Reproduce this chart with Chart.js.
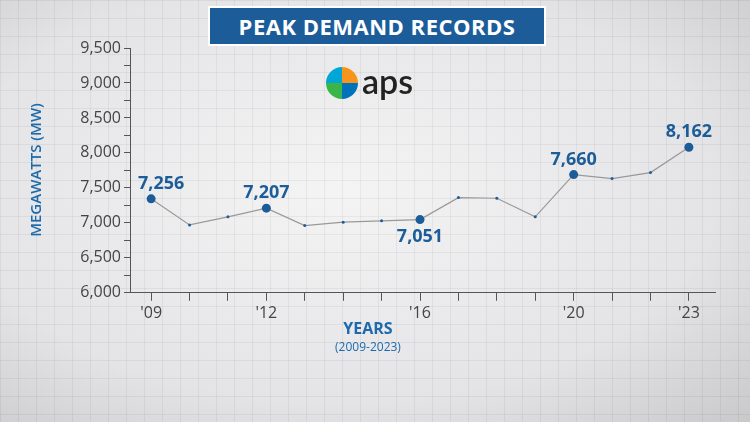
<!DOCTYPE html>
<html>
<head>
<meta charset="utf-8">
<script src="https://cdn.jsdelivr.net/npm/chart.js@4/dist/chart.umd.min.js"></script>
<style>
  body { margin: 0; width: 750px; height: 422px; overflow: hidden;
    font-family: "Open Sans", sans-serif;
    background:
      linear-gradient(rgba(0,0,0,0.05) 1px, transparent 1px) 0 0 / 18px 18px,
      linear-gradient(90deg, rgba(0,0,0,0.05) 1px, transparent 1px) 0 0 / 18px 18px,
      radial-gradient(ellipse at 45% 45%, #f4f4f5 0%, #e4e4e6 65%, #c9c9cc 100%);
  }
  #wrap { position: absolute; left: 0; top: 0; width: 750px; height: 422px; }
  .title { position: absolute; left: 208px; top: 6px; width: 334px; height: 36px;
    background: #1c5d99; border: 2px solid #fff; color: #fff; font-weight: 700;
    font-size: 22px; text-align: center; line-height: 36px; letter-spacing: 0.5px; }
  .logo { position: absolute; left: 326px; top: 60px; font: 600 34px "Lato", sans-serif; color: #222; }
  .logo span.ring { display: inline-block; width: 32px; height: 32px; border-radius: 50%;
    background: conic-gradient(#f7941d 0 25%, #0072bc 25% 50%, #39b54a 50% 75%, #00a6d6 75% 100%);
    vertical-align: -5px; margin-right: 4px; }
  .ytitle { position: absolute; left: -45px; top: 160px; width: 160px; transform: rotate(-90deg);
    color: #1c6aab; font-weight: 600; font-size: 15px; text-align: center; }
  .xtitle { position: absolute; left: 318px; top: 317px; width: 100px; text-align: center;
    color: #1c6aab; font-weight: 700; font-size: 16px; }
  .xsub { position: absolute; left: 308px; top: 338px; width: 120px; text-align: center;
    color: #1c6aab; font-size: 12px; }
</style>
</head>
<body>
<div id="wrap"><canvas id="chart" width="750" height="422"></canvas></div>
<div class="title">PEAK DEMAND RECORDS</div>
<div class="logo"><span class="ring"></span>aps</div>
<div class="ytitle">MEGAWATTS (MW)</div>
<div class="xtitle">YEARS</div>
<div class="xsub">(2009-2023)</div>
<script>
const years = [2009, 2010, 2011, 2012, 2013, 2014, 2015, 2016, 2017, 2018, 2019, 2020, 2021, 2022, 2023];
const demandMW = [7343, 6971, 7086, 7210, 6961, 7010, 7029, 7047, 7361, 7352, 7086, 7690, 7633, 7719, 8081];
const recordLabels = { 2009: "7,256", 2012: "7,207", 2016: "7,051", 2020: "7,660", 2023: "8,162" };
const yearTickLabels = { 2009: "'09", 2012: "'12", 2016: "'16", 2020: "'20", 2023: "'23" };

const blue = "#1c5d99";

const recordLabelPlugin = {
  id: "recordLabels",
  afterDatasetsDraw(chart) {
    const ctx = chart.ctx;
    const meta = chart.getDatasetMeta(0);
    ctx.save();
    ctx.font = "700 18px 'Open Sans', sans-serif";
    ctx.fillStyle = blue;
    ctx.textAlign = "center";
    meta.data.forEach((pt, i) => {
      const txt = recordLabels[years[i]];
      if (!txt) return;
      const below = years[i] === 2016;
      ctx.textBaseline = below ? "top" : "bottom";
      ctx.fillText(txt, pt.x + (i === 0 ? 10 : 0), below ? pt.y + 8 : pt.y - 6);
    });
    ctx.restore();
  }
};

new Chart(document.getElementById("chart"), {
  type: "line",
  plugins: [recordLabelPlugin],
  data: {
    datasets: [{
      data: years.map((y, i) => ({ x: y, y: demandMW[i] })),
      borderColor: "#999",
      borderWidth: 1.2,
      pointBackgroundColor: blue,
      pointBorderWidth: 0,
      pointRadius: years.map(y => recordLabels[y] ? 4.5 : 1.5),
      tension: 0
    }]
  },
  options: {
    responsive: false,
    animation: false,
    layout: { padding: { left: 0, right: 35, top: 48, bottom: 96 } },
    plugins: { legend: { display: false }, tooltip: { enabled: false } },
    scales: {
      x: {
        type: "linear", min: 2008.45, max: 2023.68,
        afterBuildTicks: axis => { axis.ticks = years.map(v => ({ value: v })); },
        grid: { drawOnChartArea: false, color: "#555", tickLength: 8 },
        border: { color: "#555" },
        ticks: { color: "#444", font: { size: 16, family: "Open Sans" },
          callback: v => yearTickLabels[v] || "", maxRotation: 0, autoSkip: false }
      },
      y: {
        min: 6000, max: 9500,
        afterBuildTicks: axis => { const t = []; for (let v = 6000; v <= 9500; v += 250) t.push({ value: v }); axis.ticks = t; },
        afterFit: axis => { axis.width = 130; },
        grid: { drawOnChartArea: false, color: "#555", tickLength: 6 },
        border: { color: "#555" },
        ticks: { color: "#444", font: { size: 16, family: "Open Sans" }, autoSkip: false,
          callback: v => v % 500 === 0 ? v.toLocaleString("en-US") : "" }
      }
    }
  }
});
</script>
</body>
</html>
